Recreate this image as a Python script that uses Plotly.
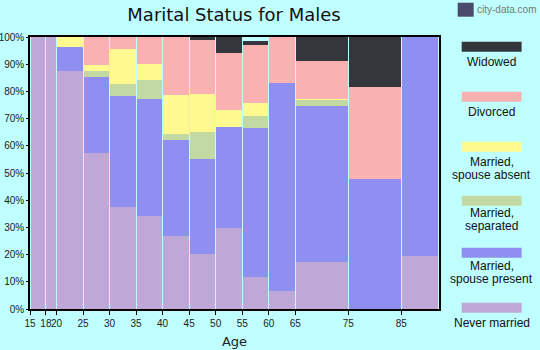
import plotly.graph_objects as go

edges = [15, 18, 20, 25, 30, 35, 40, 45, 50, 55, 60, 65, 75, 85, 92.1]
tick_vals = [15, 18, 20, 25, 30, 35, 40, 45, 50, 55, 60, 65, 75, 85]

never_married   = [100, 100, 87.6, 57.5, 37.4, 34.3, 26.9, 20.3, 29.9, 11.9, 6.7, 17.4, 0.0, 19.6]
spouse_present  = [0, 0, 8.7, 27.9, 41.0, 43.0, 35.3, 35.0, 37.1, 54.7, 76.5, 57.3, 47.9, 80.4]
separated       = [0, 0, 0, 2.2, 4.4, 7.0, 2.2, 9.9, 0.0, 4.5, 0, 2.2, 0, 0]
spouse_absent   = [0, 0, 3.7, 2.2, 12.9, 5.9, 14.4, 14.0, 6.3, 4.5, 0, 0.4, 0, 0]
divorced        = [0, 0, 0, 10.2, 4.3, 9.8, 21.2, 19.8, 20.9, 21.4, 16.8, 14.0, 33.8, 0]
widowed         = [0, 0, 0, 0, 0, 0, 0, 1.0, 5.8, 1.7, 0, 8.7, 18.3, 0]

series = [
    ("Never married", never_married, "#bfa8d8"),
    ("Married,<br>spouse present", spouse_present, "#8f8ff1"),
    ("Married,<br>separated", separated, "#c3d9a4"),
    ("Married,<br>spouse absent", spouse_absent, "#fff98f"),
    ("Divorced", divorced, "#f9b1b1"),
    ("Widowed", widowed, "#35363b"),
]

bg = "#c0ffff"
mids = [(a + b) / 2 for a, b in zip(edges[:-1], edges[1:])]
widths = [(b - a) - 0.2 for a, b in zip(edges[:-1], edges[1:])]

fig = go.Figure()
for name, vals, col in series:
    fig.add_trace(go.Bar(x=mids, y=vals, width=widths, name=name,
                         marker=dict(color=col, line=dict(width=0)),
                         showlegend=False))

W, H = 540, 350
PL, PR, PT, PB = 30, 439.3, 37.3, 309.3

def px(x):
    return (x - PL) / (PR - PL)

def py(y):
    return (PB - y) / (PB - PT)

legend_pos = [
    ("#35363b", 42, ["Widowed"], [62]),
    ("#f9b1b1", 92, ["Divorced"], [112]),
    ("#fff98f", 142, ["Married,", "spouse absent"], [162, 175]),
    ("#c3d9a4", 196, ["Married,", "separated"], [213, 226]),
    ("#8f8ff1", 248, ["Married,", "spouse present"], [266, 279]),
    ("#bfa8d8", 303, ["Never married"], [323]),
]
shapes = []
annotations = []
for col, top, labels, ys in legend_pos:
    shapes.append(dict(type="rect", xref="paper", yref="paper",
                       x0=px(462), x1=px(522), y0=py(top + 10), y1=py(top),
                       fillcolor=col, line=dict(width=0)))
    for lab, yy in zip(labels, ys):
        annotations.append(dict(text=lab, xref="paper", yref="paper",
                                x=px(492), y=py(yy),
                                xanchor="center", yanchor="middle", showarrow=False,
                                font=dict(family="Liberation Sans, Arial", size=12, color="#111")))

annotations.append(dict(text="city-data.com", xref="paper", yref="paper",
                        x=px(475), y=py(10),
                        xanchor="left", yanchor="middle", showarrow=False,
                        font=dict(family="Liberation Sans", size=10, color="#777")))
shapes.append(dict(type="rect", xref="paper", yref="paper",
                   x0=px(458), x1=px(474), y0=py(17), y1=py(3),
                   fillcolor="#4a4a6a", line=dict(width=0)))

axis_font = dict(family="Liberation Sans", size=10, color="#222")

fig.update_layout(
    width=W, height=H,
    barmode="stack", bargap=0,
    paper_bgcolor=bg, plot_bgcolor=bg,
    margin=dict(l=PL, r=W - PR, t=PT, b=H - PB, autoexpand=False),
    title=dict(text="Marital Status for Males", x=234 / W, xanchor="center",
               y=1 - 15 / H, yanchor="middle", xref="container", yref="container",
               font=dict(family="DejaVu Sans", size=18, color="#111")),
    shapes=shapes, annotations=annotations,
    xaxis=dict(range=[15, 92.1], tickvals=tick_vals, ticktext=[str(t) for t in tick_vals],
               ticks="outside", ticklen=4, tickcolor="#000", tickangle=0,
               showline=True, linecolor="#000", linewidth=1.5, mirror=True,
               showgrid=False, zeroline=False, automargin=False,
               tickfont=axis_font,
               title=dict(text="Age", standoff=9,
                          font=dict(family="DejaVu Sans", size=13, color="#222"))),
    yaxis=dict(range=[0, 100], tickvals=list(range(0, 101, 10)),
               ticktext=[f"{v}%" for v in range(0, 101, 10)],
               ticks="outside", ticklen=2, tickcolor="#000",
               showline=True, linecolor="#000", linewidth=1.5, mirror=True,
               showgrid=False, zeroline=False, automargin=False,
               tickfont=axis_font),
)

fig.write_html("out.html")
